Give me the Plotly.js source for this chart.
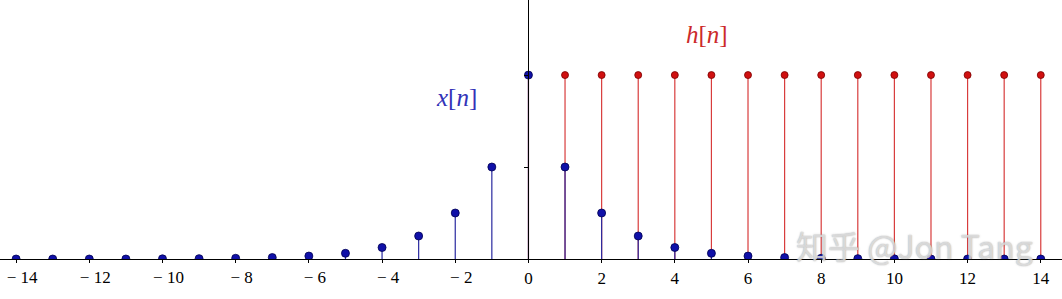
<!DOCTYPE html>
<html><head><meta charset="utf-8">
<script src="https://cdn.plot.ly/plotly-3.0.1.min.js"></script>
<style>body{margin:0;background:#fff}#c{width:1062px;height:299px}</style>
</head><body><div id="c"></div>
<script>
const nX = [-14,-13,-12,-11,-10,-9,-8,-7,-6,-5,-4,-3,-2,-1,0,1,2,3,4,5,6,7,8,9,10,11,12,13,14];
const xVals = [0,0,0,0,0.001,0.002,0.004,0.008,0.016,0.031,0.0625,0.125,0.25,0.5,1,0.5,0.25,0.125,0.0625,0.031,0.016,0.008,0.004,0.002,0.001,0,0,0,0];
const nH = [0,1,2,3,4,5,6,7,8,9,10,11,12,13,14];
const hVals = [1,1,1,1,1,1,1,1,1,1,1,1,1,1,1];
const negTickVals = [-14,-12,-10,-8,-6,-4,-2];
const negTickText = ['− 14','− 12','− 10','− 8','− 6','− 4','− 2'];
const posTickVals = [0,2,4,6,8,10,12,14];
const posTickText = ['0','2','4','6','8','10','12','14'];

function stems(n, v){ const xs=[], ys=[]; n.forEach((k,i)=>{xs.push(k,k,null); ys.push(0,v[i],null);}); return {xs, ys}; }
const sh = stems(nH, hVals), sx = stems(nX, xVals);
const SERIF = 'Liberation Serif';
const XR = [-14.44,14.58];

const traces = [
  {x: sh.xs, y: sh.ys, mode:'lines', line:{color:'#d83c3c', width:1.2}, hoverinfo:'skip'},
  {x: sx.xs, y: sx.ys, mode:'lines', line:{color:'#2a2aa0', width:1.2}, hoverinfo:'skip'},
  {x: nH.slice(1), y: hVals.slice(1), mode:'markers', marker:{color:'#d01010', size:7, line:{color:'#7a0000', width:0.8}}},
  {x: nX, y: xVals, mode:'markers', marker:{color:'#1010a8', size:8, line:{color:'#000050', width:0.8}}},
  {x: nX, y: xVals, xaxis:'x2', mode:'markers', marker:{opacity:0}, hoverinfo:'skip'}
];

const layout = {
  width:1062, height:299, margin:{l:0,r:0,t:0,b:40},
  paper_bgcolor:'#fff', plot_bgcolor:'#fff', showlegend:false,
  font:{family:SERIF},
  xaxis:{range:XR, showgrid:false, zeroline:false, showline:true, linecolor:'#000', linewidth:1.2,
    ticks:'outside', ticklen:3, tickcolor:'#000', tickvals:posTickVals, ticktext:posTickText,
    tickfont:{family:SERIF, size:17, color:'#000'}},
  xaxis2:{range:XR, overlaying:'x', anchor:'y', side:'bottom', showgrid:false, zeroline:false, showline:false,
    ticks:'outside', ticklen:3, tickcolor:'#000', tickvals:negTickVals, ticktext:negTickText, ticklabelshift:6,
    tickfont:{family:SERIF, size:17, color:'#000'}},
  yaxis:{range:[0,1.408], showgrid:false, zeroline:false, showline:true, linecolor:'#000', linewidth:1.2,
    anchor:'free', position:0.4974, ticks:'outside', ticklen:4, tickcolor:'#000', tickvals:[0.5,1], showticklabels:false},
  annotations:[
    {x:-1.97, y:0.878, xref:'x', yref:'y', xanchor:'center', yanchor:'middle', text:'<i>x</i>[<i>n</i>]', showarrow:false,
     font:{family:SERIF, size:25, color:'#3333b8'}},
    {x:4.88, y:1.223, xref:'x', yref:'y', xanchor:'center', yanchor:'middle', text:'<i>h</i>[<i>n</i>]', showarrow:false,
     font:{family:SERIF, size:25, color:'#cc2a2a'}},
    {x:0.861, y:0.054, xref:'paper', yref:'paper', xanchor:'center', yanchor:'middle', text:'知乎 @Jon Tang', showarrow:false,
     font:{family:'Noto Sans CJK SC', size:32, color:'rgba(232,232,232,0.75)', shadow:'0px 0px 1.5px rgba(110,110,110,0.9)'}}
  ]
};
Plotly.newPlot('c', traces, layout, {displayModeBar:false, staticPlot:true});
</script></body></html>
